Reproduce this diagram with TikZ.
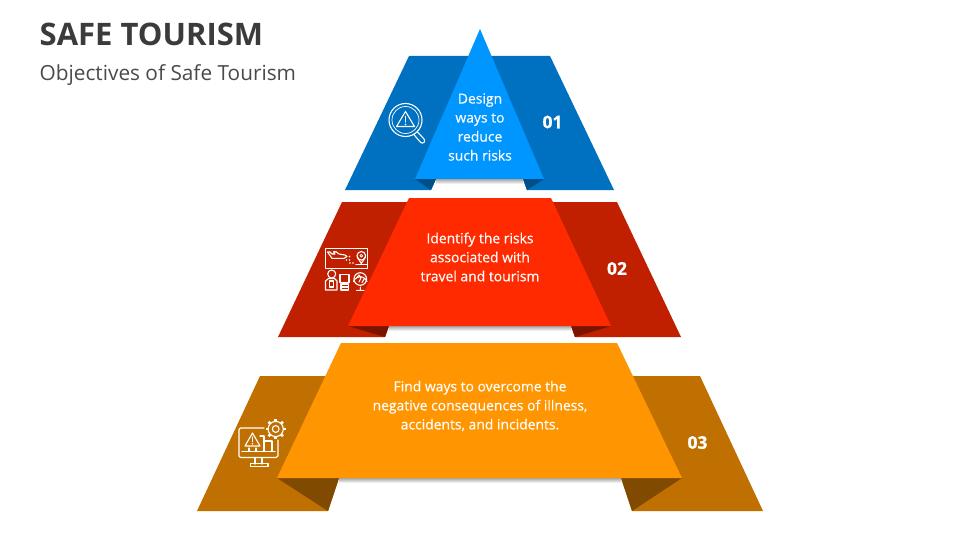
\documentclass[tikz,border=0pt]{standalone}
\usepackage{fontspec}
\setmainfont{Open Sans}
\newfontfamily\bodyfont[FakeBold=0.35]{Open Sans}
\newfontfamily\numfont[FakeBold=0.4]{Open Sans Bold}
\usetikzlibrary{shadings}
\definecolor{blueback}{HTML}{0070C0}
\definecolor{bluefront}{HTML}{0096FF}
\definecolor{bluefold}{HTML}{004F87}
\definecolor{redback}{HTML}{C01F00}
\definecolor{redfront}{HTML}{FF2A00}
\definecolor{redfold}{HTML}{7A1400}
\definecolor{orangeback}{HTML}{C07000}
\definecolor{orangefront}{HTML}{FF9500}
\definecolor{orangefold}{HTML}{804A00}
\definecolor{titlegray}{HTML}{3B3B3B}
\definecolor{subgray}{HTML}{4A4A4A}
\tikzset{
  bodytext/.style={text=white,align=center,font=\bodyfont\fontsize{13.9}{19}\selectfont,inner sep=0pt},
  numtext/.style={text=white,font=\numfont\fontsize{17.5}{20}\selectfont,inner sep=0pt},
  iconline/.style={draw=white,line width=1.1pt,fill=none,line join=round,line cap=round},
  undershadow/.style={top color=black!35,bottom color=white,draw=none,shading angle=0}
}
\begin{document}
\begin{tikzpicture}[x=1pt,y=-1pt]
\useasboundingbox (0,0) rectangle (960,540);
\fill[white] (0,0) rectangle (960,540);

\node[anchor=west,inner sep=0pt,text=titlegray,font=\fontsize{31}{36}\selectfont\bfseries] (title) at (39.5,34.5) {SAFE TOURISM};
\node[anchor=west,inner sep=0pt,text=subgray,font=\fontsize{20.8}{24}\selectfont] (subtitle) at (39.5,75.5) {Objectives of Safe Tourism};

% tier 1
\fill[blueback] (345,190) -- (409,56) -- (550,56) -- (614,190) -- (527,190) -- (523,179) -- (436,179) -- (431,190) -- cycle;
\fill[bluefold] (415,179) -- (431,190) -- (436,179) -- cycle;
\fill[bluefold] (544,179) -- (527,190) -- (523,179) -- cycle;
\shade[undershadow] (436,179) rectangle (523,184);
\fill[bluefront] (480,29) -- (544,179) -- (415,179) -- cycle;
\node[bodytext] (t1) at (480,127) {Design\\ways to\\reduce\\such risks};
\node[numtext] (n1) at (552.5,122) {01};

% tier 2
\fill[redback] (278,337) -- (342,202) -- (617,202) -- (681,337) -- (575,337) -- (571,326) -- (389,326) -- (385,337) -- cycle;
\fill[redfold] (348,326) -- (385,337) -- (389,326) -- cycle;
\fill[redfold] (611,326) -- (575,337) -- (571,326) -- cycle;
\shade[undershadow] (389,326) rectangle (571,331);
\fill[redfront] (409,198) -- (551,198) -- (611,326) -- (348,326) -- cycle;
\node[bodytext] (t2) at (480,257) {Identify the risks\\associated with\\travel and tourism};
\node[numtext] (n2) at (617,268.5) {02};

% tier 3
\fill[orangeback] (197,511) -- (260,376) -- (700,376) -- (763,511) -- (632,511) -- (621,478) -- (339,478) -- (328,511) -- cycle;
\fill[orangefold] (277,478) -- (328,511) -- (339,478) -- cycle;
\fill[orangefold] (682,478) -- (632,511) -- (621,478) -- cycle;
\shade[undershadow] (339,478) rectangle (621,483);
\fill[orangefront] (341,343) -- (617,343) -- (682,478) -- (277,478) -- cycle;
\node[bodytext] (t3) at (480,406) {Find ways to overcome the\\negative consequences of illness,\\accidents, and incidents.};
\node[numtext] (n3) at (697.5,442.5) {03};

% icon 1: magnifier with warning sign
\draw[iconline] (405.5,120) circle (16.5);
\draw[iconline,line width=0.7pt] (405.5,120) circle (13.5);
\draw[iconline] (405.5,111.5) -- (414.5,126.5) -- (396.5,126.5) -- cycle;
\draw[iconline] (405.5,116.5) -- (405.5,122);
\fill[white] (405.5,124.4) circle (0.9);
\draw[iconline] (417.5,132) -- (424,139) arc (-45:135:2.4) -- (413.8,134.5);

% icon 2: route board, person, board, globe
\draw[iconline] (325.7,248.7) rectangle (367.3,268.3);
\draw[iconline] (327.5,252) -- (330,252) -- (332,254) -- (335,254) -- (333.5,251.7) -- (336,251.7) -- (339,254) -- (345,255) -- (347,256.5) -- (344,258.3) -- (332,258.3) -- cycle;
\fill[white] (349.5,256.5) circle (0.8) (346.5,260) circle (0.8) (349.5,260) circle (0.8) (350,263) circle (0.8) (353,263) circle (0.8);
\draw[iconline] (361.3,255.8) circle (4.3);
\draw[iconline,line width=0.8pt] (361.3,255.8) circle (1.4);
\draw[iconline] (357.2,257) -- (361.3,263.5) -- (365.4,257);
\draw[iconline] (356,264.5) -- (366.5,264.5);
\draw[iconline] (331.7,274) circle (4);
\draw[iconline] (325.5,290) -- (325.5,281) -- (328.5,278.5) -- (334.5,278.5) -- (337,281) -- (337,290) -- cycle;
\draw[iconline] (329.6,281) rectangle (333.6,287);
\draw[iconline] (340,274.5) rectangle (349,282.3);
\draw[iconline] (341,284) rectangle (348.5,290);
\draw[iconline] (341,287) -- (348.5,287);
\draw[iconline] (360.3,279) circle (6.3);
\draw[iconline] (356.5,278) -- (359,275) -- (361,278) -- (359,282) (362,282.5) -- (364.5,278.5);
\draw[iconline] (353.5,281.5) arc (200:340:7.2) (360.3,287) -- (360.3,290) (356.5,290.3) -- (364,290.3);

% icon 3: monitor, warning, chart, gear
\draw[iconline] (264,428) -- (240.5,428) -- (239,429.5) -- (239,456) -- (240.5,457.5) -- (276,457.5) -- (278,456) -- (278,440);
\draw[iconline] (242,451.5) -- (275,451.5);
\draw[iconline] (252.5,433) -- (260,446) -- (245,446) -- cycle;
\draw[iconline] (252.5,437) -- (252.5,441.5);
\fill[white] (252.5,443.7) circle (0.8);
\draw[iconline] (260,436) -- (264,436) -- (264,451.5);
\draw[iconline] (265,441) -- (272,441) -- (272,451.5);
\draw[iconline] (249,451.5) -- (249,448) (256,451.5) -- (256,448);
\draw[iconline] (255,457.5) -- (255,464) (262,457.5) -- (262,464);
\draw[iconline] (250.5,463.5) rectangle (268,466.5);
\draw[iconline] (275.7,429) circle (3.4);
\draw[iconline] (275.7,429) circle (7.6);
\foreach \a in {0,45,...,315}{
  \draw[white,line width=2.6pt] (275.7,429) ++(\a:7.6) -- ++(\a:2.6);
}
\end{tikzpicture}
\end{document}
